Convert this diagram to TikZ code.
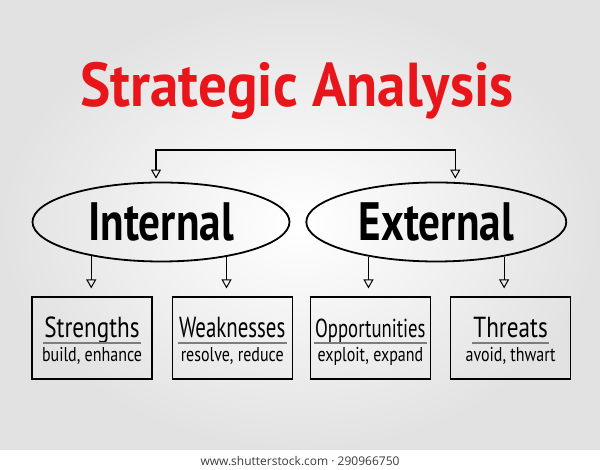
\documentclass[tikz,border=0pt]{standalone}
\usepackage{fontspec}
\setmainfont{PT Sans}
\newfontfamily\handfont[FakeStretch=0.8]{PT Sans}
\newfontfamily\narrowfont[FakeStretch=0.72]{PT Sans}
\newfontfamily\titlefont[FakeStretch=0.92]{PT Sans}
\newfontfamily\footfont{Open Sans}
\usetikzlibrary{positioning,calc,arrows.meta,shapes.geometric}
\definecolor{titlered}{RGB}{232,22,26}
\definecolor{bggray}{RGB}{226,226,226}
\definecolor{linegray}{RGB}{125,125,125}
\definecolor{footgray}{RGB}{60,60,60}

\begin{document}
\begin{tikzpicture}[x=1pt, y=1pt,
    bubble/.style={ellipse, draw=black, line width=1.8pt, minimum width=257pt, minimum height=79pt, inner sep=0pt, font=\handfont\bfseries\fontsize{54}{54}\selectfont},
    card/.style={rectangle, draw=black, line width=1.2pt, minimum width=120pt, minimum height=82pt, inner sep=0pt},
    head/.style={anchor=base, inner sep=1pt, font=\handfont\fontsize{29}{29}\selectfont},
    narrowhead/.style={head, font=\narrowfont\fontsize{29}{29}\selectfont},
    sub/.style={anchor=base, inner sep=1pt, font=\handfont\fontsize{20}{20}\selectfont},
    uline/.style={draw=linegray, line width=1.2pt},
    drop/.style={line width=1.1pt, -{Triangle[open, length=9pt, width=10pt, line width=1pt]}},
    ]
    \useasboundingbox (0,0) rectangle (600,470);
    % background
    \shade[inner color=white, outer color=bggray] (0,20) rectangle (600,470);
    \fill[white] (0,0) rectangle (600,20);

    % title
    \node[anchor=base, text=titlered, font=\titlefont\bfseries\fontsize{62}{62}\selectfont] (title) at (297,363) {Strategic Analysis};
    \coordinate (fork) at (305,320);

    % ellipses
    \node[bubble] (int) at (161,248) {Internal};
    \node[bubble, minimum width=260pt, right=15pt of int] (ext) {External};

    % fork arrows
    \draw[drop] (fork) -| ([xshift=-5pt, yshift=3pt]int.north);
    \draw[drop] (fork) -| ([xshift=19pt, yshift=3pt]ext.north);

    % cards
    \node[card] (str) at (92,132) {};
    \node[card, right=19pt of str] (weak) {};
    \node[card, right=17pt of weak] (opp) {};
    \node[card, right=19pt of opp] (thr) {};

    % card texts
    \node[head]       (str_h)  at (str.center)  {Strengths};
    \node[narrowhead] (weak_h) at (weak.center) {Weaknesses};
    \node[narrowhead, font=\narrowfont\fontsize{26}{26}\selectfont] (opp_h) at (opp.center) {Opportunities};
    \node[head]       (thr_h)  at (thr.center)  {Threats};
    \draw[uline] ([yshift=-5pt]str_h.base west)  -- ([yshift=-5pt]str_h.base east);
    \draw[uline] ([yshift=-5pt]weak_h.base west) -- ([yshift=-5pt]weak_h.base east);
    \draw[uline] ([yshift=-5pt]opp_h.base west)  -- ([yshift=-5pt]opp_h.base east);
    \draw[uline] ([yshift=-5pt]thr_h.base west)  -- ([yshift=-5pt]thr_h.base east);
    \node[sub] (str_s)  at ([yshift=-24pt]str.center)  {build, enhance};
    \node[sub] (weak_s) at ([yshift=-24pt]weak.center) {resolve, reduce};
    \node[sub] (opp_s)  at ([yshift=-24pt]opp.center)  {exploit, expand};
    \node[sub] (thr_s)  at ([yshift=-24pt]thr.center)  {avoid, thwart};

    % internal arrows
    \draw[drop, shorten >=8pt] (int.206) -- (int.206 |- str.north);
    \draw[drop, shorten >=8pt] (int.332) -- (int.332 |- weak.north);
    % external arrows
    \draw[drop, shorten >=8pt] (ext.207) -- (ext.207 |- opp.north);
    \draw[drop, shorten >=8pt] (ext.333) -- (ext.333 |- thr.north);

    % footer
    \node[text=footgray, font=\footfont\fontsize{12}{12}\selectfont] (foot) at (300,9) {www.shutterstock.com · 290966750};
\end{tikzpicture}
\end{document}
